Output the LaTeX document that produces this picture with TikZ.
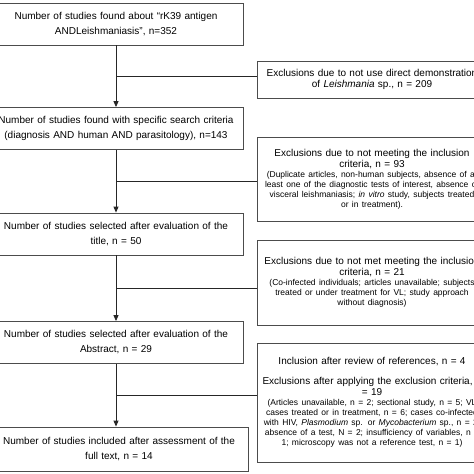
\documentclass[tikz,border=0pt]{standalone}
\usepackage{fontspec}
\setmainfont{Liberation Sans}
\usetikzlibrary{positioning, arrows.meta, calc}

\begin{document}
\begin{tikzpicture}[x=1pt, y=-1pt, font=\fontsize{10}{15}\selectfont,
    study/.style={draw=black!70, line width=0.8pt, text width=240pt, inner xsep=7pt, minimum height=42pt, align=center},
    excl/.style={draw=black!70, line width=0.8pt, text width=220pt, inner xsep=5pt, align=center, font=\fontsize{10}{11}\selectfont},
    note/.style={font=\fontsize{8.5}{10}\selectfont},
    flow/.style={black!85, line width=0.9pt}]
    \useasboundingbox (0,0) rectangle (474,474);
    \clip (0,0) rectangle (474,474);
    % main column of studies kept
    \node[study] (b1) at (116,24) {Number of studies found about “rK39 antigen\\ ANDLeishmaniasis”, n=352};
    \node[study] (b3) at (116,128.5) {Number of studies found with specific search criteria\\ (diagnosis AND human AND parasitology), n=143};
    \node[study] (b5) at (116,234) {Number of studies selected after evaluation of the\\ title, n = 50};
    \node[study] (b7) at (116,342.5) {Number of studies selected after evaluation of the\\ Abstract, n = 29};
    \node[study, text width=244pt, minimum height=44pt] (b9) at (119,449) {Number of studies included after assessment of the\\ full text, n = 14};
    % exclusions on the right
    \node[excl, minimum height=37pt] (e1) at (372,79.5) {Exclusions due to not use direct demonstration\\ of \textit{Leishmania} sp., n = 209};
    \node[excl, minimum height=84pt] (e2) at (372,179) {Exclusions due to not meeting the inclusion\\ criteria, n = 93\par
      {\fontsize{8.5}{10}\selectfont (Duplicate articles, non-human subjects, absence of at\\ least one of the diagnostic tests of interest, absence of\\ visceral leishmaniasis; \textit{in vitro} study, subjects treated\\ or in treatment).\par}};
    \node[excl, minimum height=85pt] (e3) at (372,282.5) {Exclusions due to not met meeting the inclusion\\ criteria, n = 21\par
      {\fontsize{8.5}{10}\selectfont (Co-infected individuals; articles unavailable; subjects\\ treated or under treatment for VL; study approach\\ without diagnosis)\par}};
    \node[excl, minimum height=119pt] (e4) at (372,402.5) {Inclusion after review of references, n = 4\\[9pt]
      Exclusions after applying the exclusion criteria, n\\ = 19\par
      {\fontsize{8.5}{10}\selectfont (Articles unavailable, n = 2; sectional study, n = 5; VL\\ cases treated or in treatment, n = 6; cases co-infected\\ with HIV, \textit{Plasmodium} sp. or \textit{Mycobacterium} sp., n = 2;\\ absence of a test, N = 2; insufficiency of variables, n =\\ 1; microscopy was not a reference test, n = 1)\par}};
    % arrows and branches
    \draw[flow, -{Triangle[width=5pt, length=6pt]}] (b1) -- (b3);
    \draw[flow, -{Triangle[width=5pt, length=6pt]}] (b3) -- (b5);
    \draw[flow, -{Triangle[width=5pt, length=6pt]}] (b5) -- (b7);
    \draw[flow, -{Triangle[width=5pt, length=6pt]}] (b7) -- (b7 |- b9.north);
    \coordinate (j1) at ($(b1.south)!0.5!(b3.north)$);
    \coordinate (j2) at ($(b3.south)!0.5!(b5.north)$);
    \coordinate (j3) at ($(b5.south)!0.5!(b7.north)$);
    \coordinate (j4) at ($(b7.south)!0.5!(b7.south |- b9.north)$);
    \draw[flow] (j1) -- (j1 -| e1.west);
    \draw[flow] (j2) -- (j2 -| e2.west);
    \draw[flow] (j3) -- (j3 -| e3.west);
    \draw[flow] (j4) -- (j4 -| e4.west);
\end{tikzpicture}
\end{document}
